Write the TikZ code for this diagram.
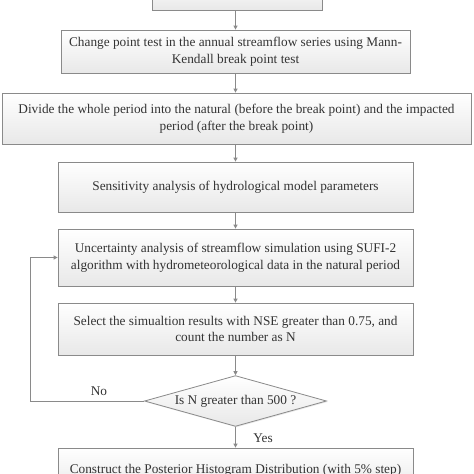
\documentclass[tikz,border=0pt]{standalone}
\usepackage{fontspec}
\setmainfont{Liberation Serif}
\usetikzlibrary{shapes.geometric,arrows.meta,shadows}
\definecolor{linegray}{HTML}{8A8A8A}
\definecolor{txtgray}{HTML}{333333}
\tikzset{
  procbox/.style={draw=linegray, line width=0.8pt, top color=white, bottom color=gray!18,
    drop shadow={shadow xshift=1pt, shadow yshift=-1pt, fill=gray!35, opacity=0.5},
    text=txtgray, font=\fontsize{13.3}{16.5}\selectfont, align=center, inner sep=0pt},
  decbox/.style={procbox, diamond, aspect=3.14},
  arr/.style={draw=linegray, line width=0.8pt, -{Triangle[length=4pt,width=4pt]}},
  lbl/.style={text=txtgray, font=\fontsize{13.3}{15}\selectfont, inner sep=0pt}
}
\begin{document}
\begin{tikzpicture}[x=1pt,y=-1pt]
\useasboundingbox (0,0) rectangle (474,474);
\fill[white] (0,0) rectangle (474,474);
\clip (0,0) rectangle (474,474);
\node[procbox, minimum width=170pt, minimum height=30pt] (b1) at (237,-5) {};
\node[procbox, minimum width=349pt, minimum height=43pt] (b2) at (235.5,51.5)
  {Change point test in the annual streamflow series using Mann-\\Kendall break point test};
\node[procbox, minimum width=469pt, minimum height=51pt] (b3) at (236.5,118.5)
  {Divide the whole period into the natural (before the break point) and the impacted\\period (after the break point)};
\node[procbox, minimum width=355pt, minimum height=50pt] (b4) at (235.5,187)
  {Sensitivity analysis of hydrological model parameters};
\node[procbox, minimum width=355pt, minimum height=57pt] (b5) at (235.5,257.5)
  {Uncertainty analysis of streamflow simulation using SUFI-2\\algorithm with hydrometeorological data in the natural period};
\node[procbox, minimum width=355pt, minimum height=52pt] (b6) at (235.5,329)
  {Select the simualtion results with NSE greater than 0.75, and\\count the number as N};
\node[decbox, minimum width=182pt] (d) at (235.5,401) {Is N greater than 500 ?};
\node[procbox, minimum width=355pt, minimum height=44pt] (b7) at (235.5,470)
  {Construct the Posterior Histogram Distribution (with 5\% step)};
\draw[arr] (b1.south -| b2.north) -- (b2.north);
\draw[arr] (b2) -- (b3.north -| b2.south);
\draw[arr] (b3.south -| b2.south) -- (b4);
\draw[arr] (b4) -- (b5);
\draw[arr] (b5) -- (b6);
\draw[arr] (b6) -- (d);
\draw[arr] (d) -- (b7);
\coordinate (fb) at (30,401);
\draw[arr] (d.west) -- (fb) |- (b5.west);
\node[lbl] (no) at (99,391) {No};
\node[lbl] (yes) at (263,438) {Yes};
\end{tikzpicture}
\end{document}
